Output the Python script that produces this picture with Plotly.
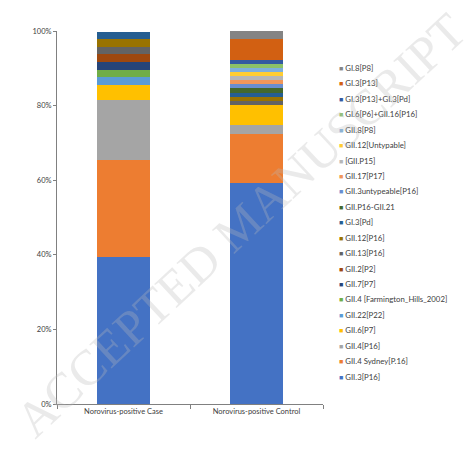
import plotly.graph_objs as go

groups = ["Norovirus-positive Case", "Norovirus-positive Control"]

# genotypes, bottom of the stack first
genotypes = [
    "GII.3[P16]", "GII.4 Sydney[P.16]", "GII.4[P16]", "GII.6[P7]", "GII.22[P22]",
    "GII.4 [Farmington_Hills_2002]", "GII.7[P7]", "GII.2[P2]", "GII.13[P16]",
    "GII.12[P16]", "GI.3[Pd]", "GII.P16-GII.21", "GII.3untypeable[P16]",
    "GII.17[P17]", "[GII.P15]", "GII.12[Untypable]", "GII.8[P8]",
    "GI.6[P6]+GII.16[P16]", "GI.3[P13]+GI.3[Pd]", "GI.3[P13]", "GI.8[P8]",
]

# percent of each group
case_pct = [39.3, 26.2, 16.1, 4.0, 2.2, 1.8, 2.2, 2.0, 2.0, 2.0, 2.0,
            0, 0, 0, 0, 0, 0, 0, 0, 0, 0]
control_pct = [59.3, 13.2, 2.2, 5.5, 0, 0, 0, 0, 1.1, 1.1, 1.1,
               1.1, 1.1, 1.1, 1.1, 1.1, 1.1, 1.1, 1.1, 5.5, 2.2]

colors = [
    "#4472C4", "#ED7D31", "#A5A5A5", "#FFC000", "#5B9BD5", "#70AD47",
    "#264478", "#9E480E", "#636363", "#997300", "#255E91", "#43682B",
    "#698ED0", "#F1975A", "#B7B7B7", "#FFCD33", "#7CAFDD", "#8CC168",
    "#335AA1", "#D26012", "#848484",
]

fig = go.Figure()
for name, a, b, c in zip(genotypes, case_pct, control_pct, colors):
    fig.add_trace(go.Bar(x=groups, y=[a, b], name=name, marker_color=c,
                         marker_line_width=0))

# page has an 8px body margin, so the figure is a bit smaller than the window
fig.update_layout(
    width=466, height=444,
    barmode="stack", bargap=0.6,
    plot_bgcolor="white", paper_bgcolor="white",
    margin=dict(l=49, r=151, t=23, b=48, autoexpand=False),
    font=dict(family="Lato", size=7.5, color="#404040"),
    showlegend=False,
)
fig.update_yaxes(range=[0, 100], dtick=20, ticksuffix="%", showgrid=False,
                 showline=True, linecolor="#808080", ticks="outside", ticklen=3,
                 tickcolor="#808080", automargin=False)
fig.update_xaxes(showline=True, linecolor="#808080", showgrid=False,
                 ticks="outside", tickson="boundaries", ticklen=4,
                 tickcolor="#808080", automargin=False)

# legend drawn as text, newest series on top (like Excel)
step = 15.43 / 373
for k, (name, c) in enumerate(zip(genotypes[::-1], colors[::-1])):
    fig.add_annotation(
        text=f"<span style='color:{c}; font-size:7px'>■</span> {name}",
        xref="paper", yref="paper", x=1.052, y=(404 - 68) / 373 - k * step,
        xanchor="left", yanchor="middle", showarrow=False,
        font=dict(size=7.8, color="#404040"))

fig.add_annotation(text="ACCEPTED MANUSCRIPT", xref="paper", yref="paper",
                   x=0.69, y=0.48, xanchor="center", yanchor="middle",
                   showarrow=False, textangle=-43,
                   font=dict(family="Liberation Serif", size=50,
                             color="rgba(185,185,185,0.3)"))

fig.write_html("out.html")
